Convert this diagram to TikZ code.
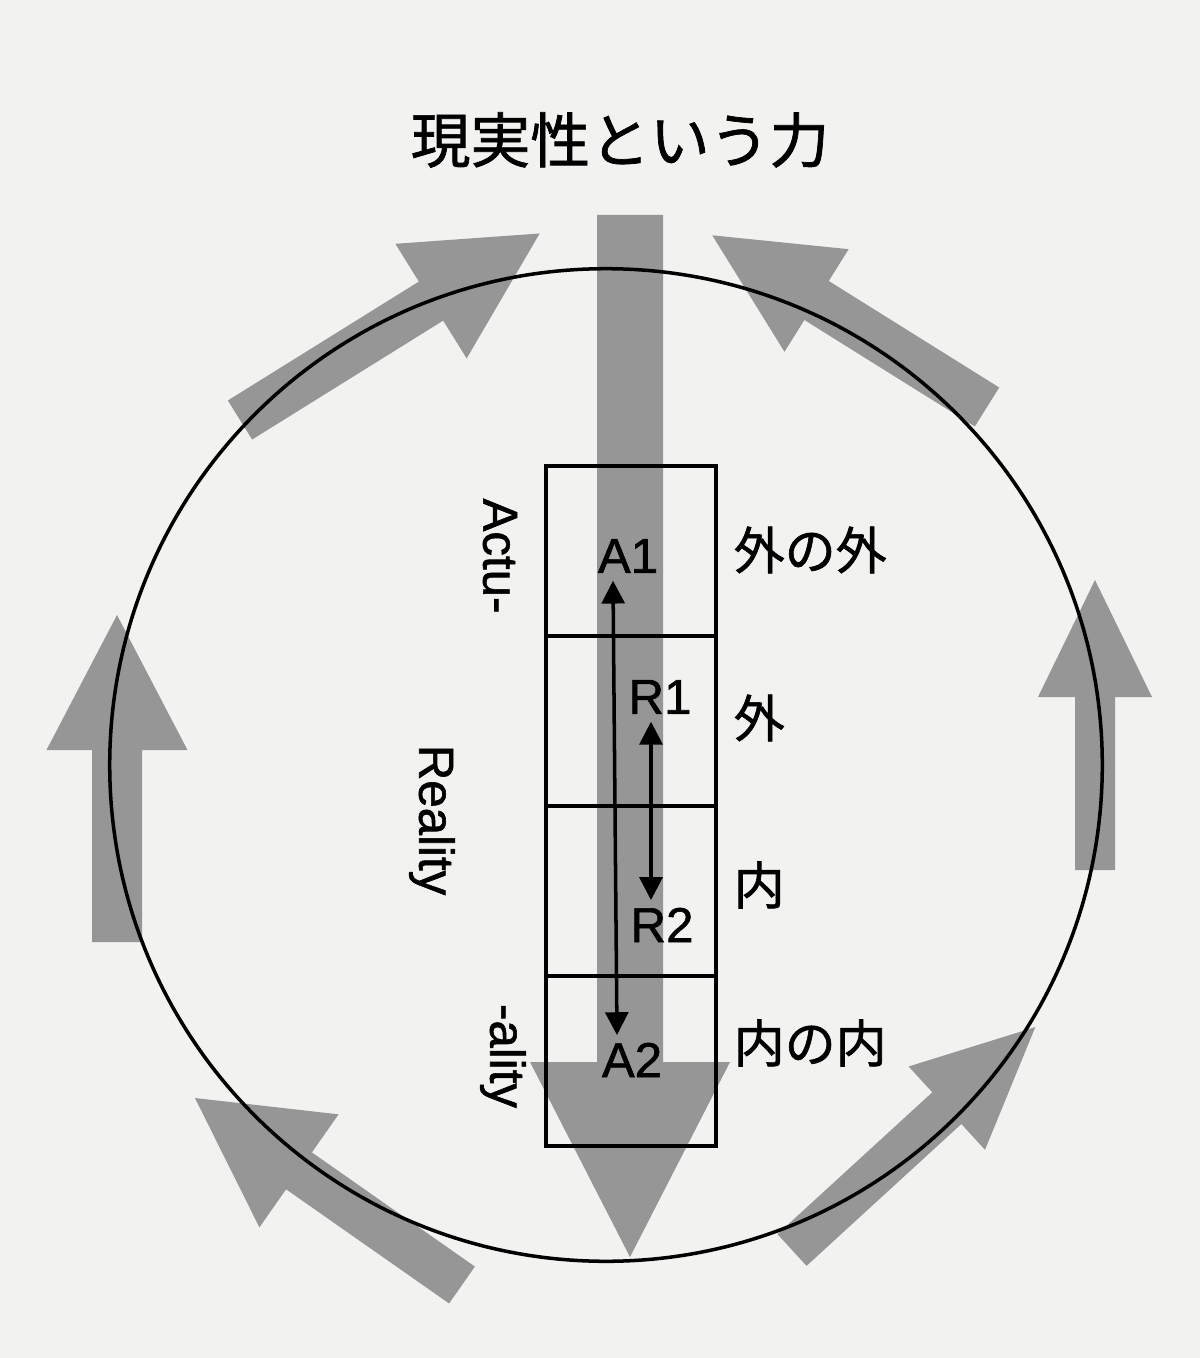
\documentclass[tikz,border=0pt]{standalone}
\usepackage{fontspec}
\setmainfont[FakeBold=1.2]{Liberation Sans}
\newfontfamily\jpfont[FakeBold=1.2]{Noto Sans CJK JP}
\usetikzlibrary{arrows.meta}

\definecolor{paper}{RGB}{242,242,240}
\definecolor{arrowgray}{RGB}{150,150,150}

% fat grey arrow: tail, angle, length, shaft width, head width, head length
\newcommand{\fatarrow}[6]{%
  \begin{scope}[shift={#1},rotate=#2]
    \fill[arrowgray] (0,-#4/2) -- (#3-#6,-#4/2) -- (#3-#6,-#5/2) -- (#3,0)
      -- (#3-#6,#5/2) -- (#3-#6,#4/2) -- (0,#4/2) -- cycle;
  \end{scope}}

\begin{document}
\begin{tikzpicture}[x=0.01cm,y=-0.01cm,
    cell/.style={draw,line width=1pt,minimum width=1.7cm,minimum height=1.7cm,inner sep=0pt},
    lbl/.style={inner sep=2pt,font=\fontsize{14}{16}\selectfont},
    jlbl/.style={anchor=west,inner sep=0pt,font=\fontsize{14.5}{16}\selectfont\jpfont},
    dbl/.style={line width=1pt,{Triangle[width=6.5pt,length=6.5pt]}-{Triangle[width=6.5pt,length=6.5pt]}}]

    \fill[paper] (0,0) rectangle (1200,1358);
    \useasboundingbox (0,0) rectangle (1200,1358);

    % arrows round the circle
    \fatarrow{(240,420)}{31.9}{353}{46}{135}{128}
    \fatarrow{(987,407)}{148}{324}{46}{121}{123}
    \fatarrow{(117,942)}{90}{327}{50}{141}{135}
    \fatarrow{(1095,870)}{90}{290}{40}{114}{117}
    \fatarrow{(462,1285)}{145}{326}{45}{138}{127}
    \fatarrow{(792,1250)}{42.5}{330}{43}{113}{120}
    % central arrow
    \fatarrow{(630,215)}{-90}{1042}{66}{200}{195}

    \coordinate (Centre) at (606,765);
    \draw[line width=1pt] (Centre) circle[radius=4.96cm];

    \node (title) at (620,140) {\fontsize{17}{20}\selectfont\jpfont 現実性という力};

    \node[cell] (cell1) at (631,551) {};
    \node[cell] (cell2) at (631,721) {};
    \node[cell] (cell3) at (631,891) {};
    \node[cell] (cell4) at (631,1061) {};

    \node[lbl] (A1) at (628,556) {A1};
    \node[lbl] (R1) at (660,697) {R1};
    \node[lbl] (R2) at (662,925) {R2};
    \node[lbl] (A2) at (632,1060) {A2};

    \node[jlbl] (outout) at (733,550) {外の外};
    \node[jlbl] (out) at (733,718) {外};
    \node[jlbl] (in) at (733,885) {内};
    \node[jlbl] (inin) at (733,1043) {内の内};

    \node[lbl,rotate=-90] (actu) at (500,556) {Actu-};
    \node[lbl,rotate=-90] (reality) at (432,820) {Reality};
    \node[lbl,rotate=-90] (ality) at (503,1056) {-ality};

    \draw[dbl] ([xshift=-0.15cm]A1.south) -- ([xshift=-0.15cm]A2.north);
    \draw[dbl] ([xshift=-0.09cm]R1.south) -- ([xshift=-0.11cm]R2.north);
\end{tikzpicture}
\end{document}
